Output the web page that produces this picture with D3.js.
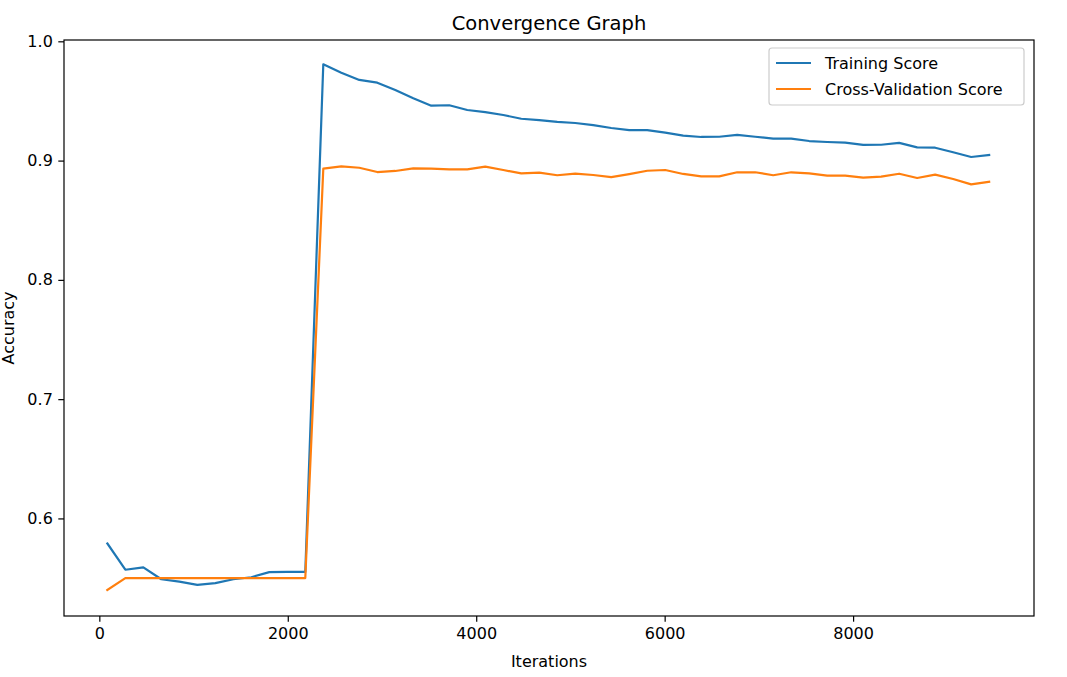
<!DOCTYPE html>
<html>
<head>
<meta charset="utf-8">
<script src="https://cdn.jsdelivr.net/npm/d3@7"></script>
<style>
  body { margin: 0; background: #fff; }
  svg { display: block; font-family: "DejaVu Sans", sans-serif; }
</style>
</head>
<body>
<svg id="chart" width="1067" height="677"></svg>
<script>
// Iterations on the x axis
var iterations = [85, 276, 467, 658, 849, 1040, 1231, 1422, 1613, 1804,
  1995, 2186, 2377, 2568, 2759, 2950, 3141, 3332, 3523, 3714,
  3905, 4096, 4287, 4478, 4669, 4860, 5051, 5242, 5433, 5624,
  5815, 6006, 6197, 6388, 6579, 6770, 6961, 7152, 7343, 7534,
  7725, 7916, 8107, 8298, 8489, 8680, 8871, 9062, 9253, 9444];

var trainScores = [0.579, 0.557, 0.559, 0.549, 0.547, 0.5443, 0.5457, 0.549, 0.5507, 0.555,
  0.5552, 0.5552, 0.9807, 0.9737, 0.9676, 0.9653, 0.9592, 0.9522, 0.946, 0.9464,
  0.9424, 0.9407, 0.9382, 0.9351, 0.934, 0.9324, 0.9315, 0.9298, 0.9273, 0.9256,
  0.9256, 0.9234, 0.9209, 0.9198, 0.92, 0.9215, 0.92, 0.9184, 0.9184, 0.9164,
  0.9156, 0.915, 0.9131, 0.9133, 0.9148, 0.9111, 0.9108, 0.907, 0.903, 0.9047];

var cvScores = [0.540, 0.55, 0.55, 0.55, 0.55, 0.55, 0.55, 0.55, 0.55, 0.55,
  0.55, 0.55, 0.8932, 0.8952, 0.894, 0.8904, 0.8913, 0.8935, 0.8932, 0.8927,
  0.8927, 0.8949, 0.8921, 0.8893, 0.8899, 0.8877, 0.889, 0.8879, 0.8862, 0.8887,
  0.8915, 0.8921, 0.8888, 0.8868, 0.8868, 0.8902, 0.8902, 0.8877, 0.8902, 0.8893,
  0.8874, 0.8874, 0.8857, 0.8865, 0.889, 0.8854, 0.8882, 0.8846, 0.8801, 0.8823];

var xTicks = [0, 2000, 4000, 6000, 8000];
var yTicks = [0.6, 0.7, 0.8, 0.9, 1.0];

var seriesNames = ["Training Score", "Cross-Validation Score"];
var seriesColors = ["#1f77b4", "#ff7f0e"];

var svg = d3.select("#chart");

// plot area (matplotlib style axes box)
var plotLeft = 64, plotRight = 1034, plotTop = 40, plotBottom = 616;

var x = d3.scaleLinear().domain([-375, 9920]).range([plotLeft, plotRight]);
var y = d3.scaleLinear().domain([0.5182, 1.0011]).range([plotBottom, plotTop]);

// x axis
var xAxis = svg.append("g")
    .attr("transform", "translate(0," + plotBottom + ")")
    .call(d3.axisBottom(x).tickValues(xTicks).tickFormat(d3.format("d")).tickSize(5.7).tickPadding(5.5));

// y axis
var yAxis = svg.append("g")
    .attr("transform", "translate(" + plotLeft + ",0)")
    .call(d3.axisLeft(y).tickValues(yTicks).tickFormat(d3.format(".1f")).tickSize(5.7).tickPadding(5.5));

[xAxis, yAxis].forEach(function (ax) {
    ax.select(".domain").remove();
    ax.selectAll("line").attr("stroke", "#000").attr("stroke-width", 1.2);
    ax.selectAll("text").attr("fill", "#000").style("font-size", "16px").style("font-family", "DejaVu Sans, sans-serif");
});

// lines
var line = d3.line()
    .x(function (d, i) { return x(iterations[i]); })
    .y(function (d) { return y(d); });

[trainScores, cvScores].forEach(function (s, k) {
    svg.append("path")
        .datum(s)
        .attr("d", line)
        .attr("fill", "none")
        .attr("stroke", seriesColors[k])
        .attr("stroke-width", 2.2)
        .attr("stroke-linejoin", "round")
        .attr("stroke-linecap", "square");
});

// axes frame
svg.append("rect")
    .attr("x", plotLeft).attr("y", plotTop)
    .attr("width", plotRight - plotLeft).attr("height", plotBottom - plotTop)
    .attr("fill", "none").attr("stroke", "#000").attr("stroke-width", 1.2);

// title and labels
svg.append("text")
    .attr("x", (plotLeft + plotRight) / 2).attr("y", 30)
    .attr("text-anchor", "middle")
    .style("font-size", "19.5px")
    .text("Convergence Graph");

svg.append("text")
    .attr("x", (plotLeft + plotRight) / 2).attr("y", 667)
    .attr("text-anchor", "middle")
    .style("font-size", "16px")
    .text("Iterations");

svg.append("text")
    .attr("transform", "translate(14," + (plotTop + plotBottom) / 2 + ") rotate(-90)")
    .attr("text-anchor", "middle")
    .style("font-size", "16px")
    .text("Accuracy");

// legend
var legend = svg.append("g");
legend.append("rect")
    .attr("x", 769).attr("y", 48)
    .attr("width", 255).attr("height", 57)
    .attr("rx", 3)
    .attr("fill", "#fff").attr("fill-opacity", 0.8)
    .attr("stroke", "#ccc").attr("stroke-width", 1.2);

seriesNames.forEach(function (name, k) {
    var ly = 63 + k * 26;
    legend.append("line")
        .attr("x1", 776).attr("x2", 811)
        .attr("y1", ly).attr("y2", ly)
        .attr("stroke", seriesColors[k]).attr("stroke-width", 2.2);
    legend.append("text")
        .attr("x", 825).attr("y", ly + 6)
        .style("font-size", "16px")
        .text(name);
});
</script>
</body>
</html>
